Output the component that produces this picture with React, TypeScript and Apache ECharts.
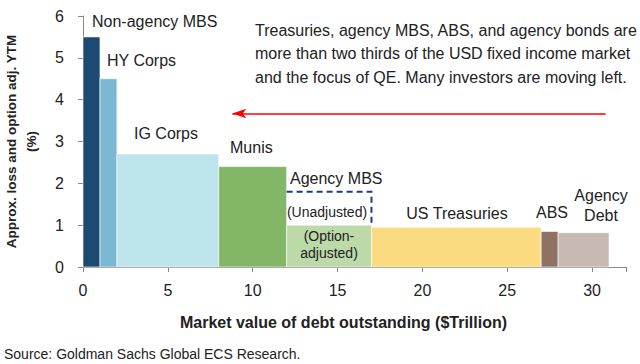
import React, { useEffect, useRef } from "react";
import * as echarts from "echarts";

const categories = ["Non-agency MBS", "HY Corps", "IG Corps", "Munis", "Agency MBS", "US Treasuries", "ABS", "Agency Debt"];
const starts = [0, 1, 2, 8, 12, 17, 27, 28];
const ends = [1, 2, 8, 12, 17, 27, 28, 31];
const yields = [5.5, 4.5, 2.7, 2.4, 1.0, 0.95, 0.85, 0.82];
const agencyMbsUnadjusted = 1.8;
const colors = ["#1b4a73", "#7ab8d3", "#bde5eb", "#83b666", "#bcd9a8", "#fadb7f", "#8f7264", "#c8b9b2"];
const xTicks = [0, 5, 10, 15, 20, 25, 30];
const arrowFrom = [30.8, 3.67];
const arrowTo = [8.8, 3.67];

const annotation = [
  "Treasuries, agency MBS, ABS, and agency bonds are",
  "more than two thirds of the USD fixed income market",
  "and the focus of QE. Many investors are moving left.",
];

export default function App() {
  const ref = useRef<HTMLDivElement>(null);
  useEffect(() => {
    const chart = echarts.init(ref.current!, null, { renderer: "svg" });
    const font = '"Liberation Sans", Arial, sans-serif';
    const txt = (text: string, x: number, y: number, align = "left", size = 16) => ({
      type: "text",
      style: { text, x, y, fill: "#222", font: `${size}px ${font}`, textAlign: align, textVerticalAlign: "middle" },
      z: 10,
    });
    const barData = categories.map((c, i) => ({ name: c, value: [starts[i], ends[i], yields[i], i] }));
    const mbsIdx = categories.indexOf("Agency MBS");
    chart.setOption({
      animation: false,
      textStyle: { fontFamily: font },
      grid: { left: 83, right: 14, top: 16, bottom: 97, containLabel: false, outerBoundsMode: "none" },
      xAxis: {
        type: "value",
        min: 0,
        max: 32,
        interval: 5,
        splitLine: { show: false },
        axisLine: { lineStyle: { color: "#888" } },
        axisTick: { lineStyle: { color: "#888" }, length: 5 },
        axisLabel: {
          color: "#222",
          fontSize: 16,
          margin: 15,
          formatter: (v: number) => (xTicks.includes(v) ? String(v) : ""),
        },
        name: "Market value of debt outstanding ($Trillion)",
        nameLocation: "middle",
        nameGap: 47,
        nameTextStyle: { fontSize: 16, fontWeight: "bold", color: "#222", padding: [0, 22, 0, 0] },
      },
      yAxis: {
        type: "value",
        min: 0,
        max: 6,
        interval: 1,
        splitLine: { show: false },
        axisLine: { show: true, lineStyle: { color: "#888" } },
        axisTick: { show: true, lineStyle: { color: "#888" }, length: 5 },
        axisLabel: { color: "#222", fontSize: 16, margin: 19 },
        name: "Approx. loss and option adj. YTM\n(%)",
        nameLocation: "middle",
        nameGap: 42,
        nameTextStyle: { fontSize: 13.5, fontWeight: "bold", color: "#222", lineHeight: 20 },
      },
      series: [
        {
          type: "custom",
          data: barData,
          renderItem: (params: any, api: any) => {
            const x0 = api.value(0), x1 = api.value(1), y = api.value(2), idx = api.value(3);
            const p0 = api.coord([x0, y]);
            const p1 = api.coord([x1, 0]);
            return {
              type: "rect",
              shape: { x: p0[0], y: p0[1], width: p1[0] - p0[0], height: p1[1] - p0[1] },
              style: { fill: colors[idx], stroke: "rgba(255,255,255,0.6)", lineWidth: 1 },
            };
          },
        },
        {
          type: "custom",
          data: [[starts[mbsIdx], ends[mbsIdx], agencyMbsUnadjusted, yields[mbsIdx]]],
          z: 5,
          renderItem: (params: any, api: any) => {
            const a = api.coord([api.value(0), api.value(2)]);
            const b = api.coord([api.value(1), api.value(2)]);
            const c = api.coord([api.value(1), api.value(3)]);
            return {
              type: "polyline",
              shape: { points: [a, b, c] },
              style: { stroke: "#1f3a78", lineWidth: 2, lineDash: [6, 4], fill: null },
            };
          },
        },
        {
          type: "line",
          data: [],
          markLine: {
            silent: true,
            symbol: ["arrow", "none"],
            symbolSize: [7, 14],
            lineStyle: { color: "#ff0000", width: 1.5, type: "solid" },
            label: { show: false },
            data: [[{ coord: arrowTo }, { coord: arrowFrom }]],
          },
        },
      ],
      graphic: [
        txt("Non-agency MBS", 92, 21),
        txt("HY Corps", 107, 60),
        txt("IG Corps", 134, 133),
        txt("Munis", 230, 147),
        txt("Agency MBS", 290, 178),
        txt("(Unadjusted)", 327, 212, "center", 14),
        txt("(Option-", 329, 236, "center", 14),
        txt("adjusted)", 329, 253, "center", 14),
        txt("US Treasuries", 457, 213, "center"),
        txt("ABS", 552, 212, "center"),
        txt("Agency", 601, 195, "center"),
        txt("Debt", 601, 215, "center"),
        txt(annotation[0], 255, 30, "left", 16),
        txt(annotation[1], 255, 53, "left", 16),
        txt(annotation[2], 255, 77, "left", 16),
        txt("Source: Goldman Sachs Global ECS Research.", 4, 354, "left", 14),
      ],
    });
    return () => chart.dispose();
  }, []);
  return <div ref={ref} style={{ width: 640, height: 364, position: "absolute", left: 0, top: 0, background: "#fff" }} />;
}
